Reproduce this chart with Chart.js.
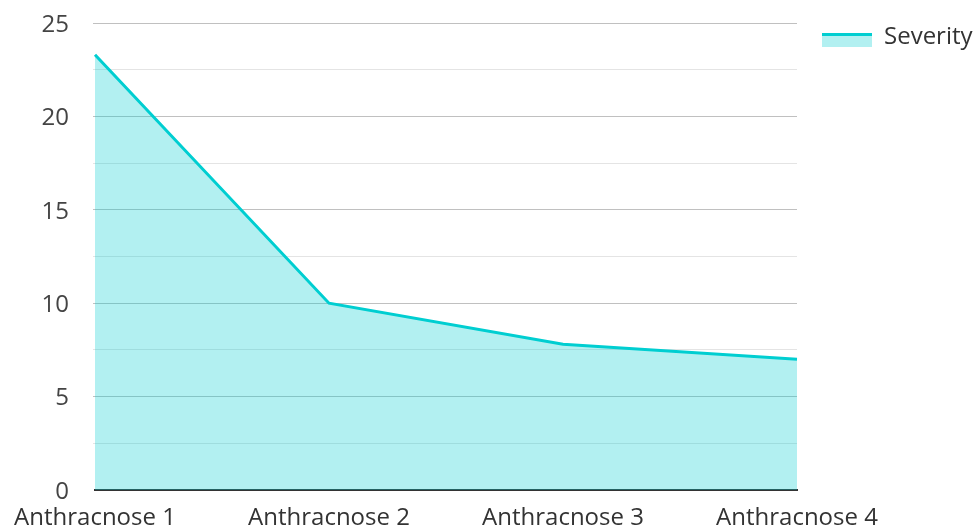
<!DOCTYPE html>
<html>
<head>
<meta charset="utf-8">
<script src="https://cdn.jsdelivr.net/npm/chart.js@4/dist/chart.umd.min.js"></script>
<style>
  html, body { margin: 0; padding: 0; background: #fff; }
  #wrap { width: 975px; height: 531px; position: relative; }
</style>
</head>
<body>
<div id="wrap"><canvas id="c"></canvas></div>
<script>
const categories = ['Anthracnose 1', 'Anthracnose 2', 'Anthracnose 3', 'Anthracnose 4'];
const severity = [23.3, 10, 7.8, 7];
const seriesName = 'Severity';

const lineColor = 'rgb(0, 206, 209)';
const fillColor = 'rgba(0, 206, 209, 0.3)';
const fontFamily = '"Open Sans", "Noto Sans", sans-serif';

// Legend swatch: thick line on top with the area fill underneath
const swatch = document.createElement('canvas');
swatch.width = 50;
swatch.height = 20;
(function () {
  const g = swatch.getContext('2d');
  g.fillStyle = fillColor;
  g.fillRect(0, 9, 50, 11);
  g.fillStyle = lineColor;
  g.fillRect(0, 6, 50, 3);
})();

// Fixed legend column width, and the legend moved up beside the top of the plot
const legendPlacePlugin = {
  id: 'legendPlace',
  beforeLayout(chart) {
    const lg = chart.legend;
    if (lg && !lg._fixedWidth) {
      const fit = lg.fit;
      lg.fit = function () { fit.call(this); this.width = 178; };
      lg._fixedWidth = true;
    }
  },
  afterLayout(chart) {
    const lg = chart.legend;
    if (lg) { const d = lg.top; lg.top -= d; lg.bottom -= d; }
  }
};

new Chart(document.getElementById('c'), {
  type: 'line',
  data: {
    labels: categories,
    datasets: [{
      label: seriesName,
      data: severity,
      borderColor: lineColor,
      backgroundColor: fillColor,
      borderWidth: 3,
      fill: 'origin',
      tension: 0,
      pointRadius: 0,
      pointHoverRadius: 0
    }]
  },
  options: {
    responsive: true,
    maintainAspectRatio: false,
    animation: false,
    layout: { padding: { top: 23, bottom: 0, left: 0, right: 0 } },
    plugins: {
      legend: {
        position: 'right',
        align: 'start',
        labels: {
          usePointStyle: true,
          pointStyle: swatch,
          pointStyleWidth: 50,
          padding: 25,
          color: '#333',
          font: { family: fontFamily, size: 24 }
        }
      },
      tooltip: { enabled: false }
    },
    scales: {
      x: {
        offset: false,
        afterFit(scale) { scale.height = 41; },
        grid: { display: false, drawTicks: false },
        border: { display: true, color: '#333', width: 2 },
        ticks: {
          color: '#333',
          padding: 14,
          maxRotation: 0,
          autoSkip: false,
          font: { family: fontFamily, size: 24 }
        }
      },
      y: {
        min: 0,
        max: 25,
        afterFit(scale) {
          scale.width = 95;
          scale.paddingTop = 0;
          scale.paddingBottom = 0;
        },
        border: { display: false },
        grid: {
          drawTicks: true,
          tickLength: 2,
          lineWidth: 1,
          color(ctx) {
            const v = ctx.tick ? ctx.tick.value : 0;
            if (v === 0) return 'transparent';
            return v % 5 === 0 ? '#c0c0c0' : '#e4e4e4';
          }
        },
        ticks: {
          stepSize: 2.5,
          padding: 24,
          labelOffset: 2,
          color: '#444',
          font: { family: fontFamily, size: 24 },
          callback(v) { return v % 5 === 0 ? String(v) : ''; }
        }
      }
    }
  },
  plugins: [legendPlacePlugin]
});
</script>
</body>
</html>
